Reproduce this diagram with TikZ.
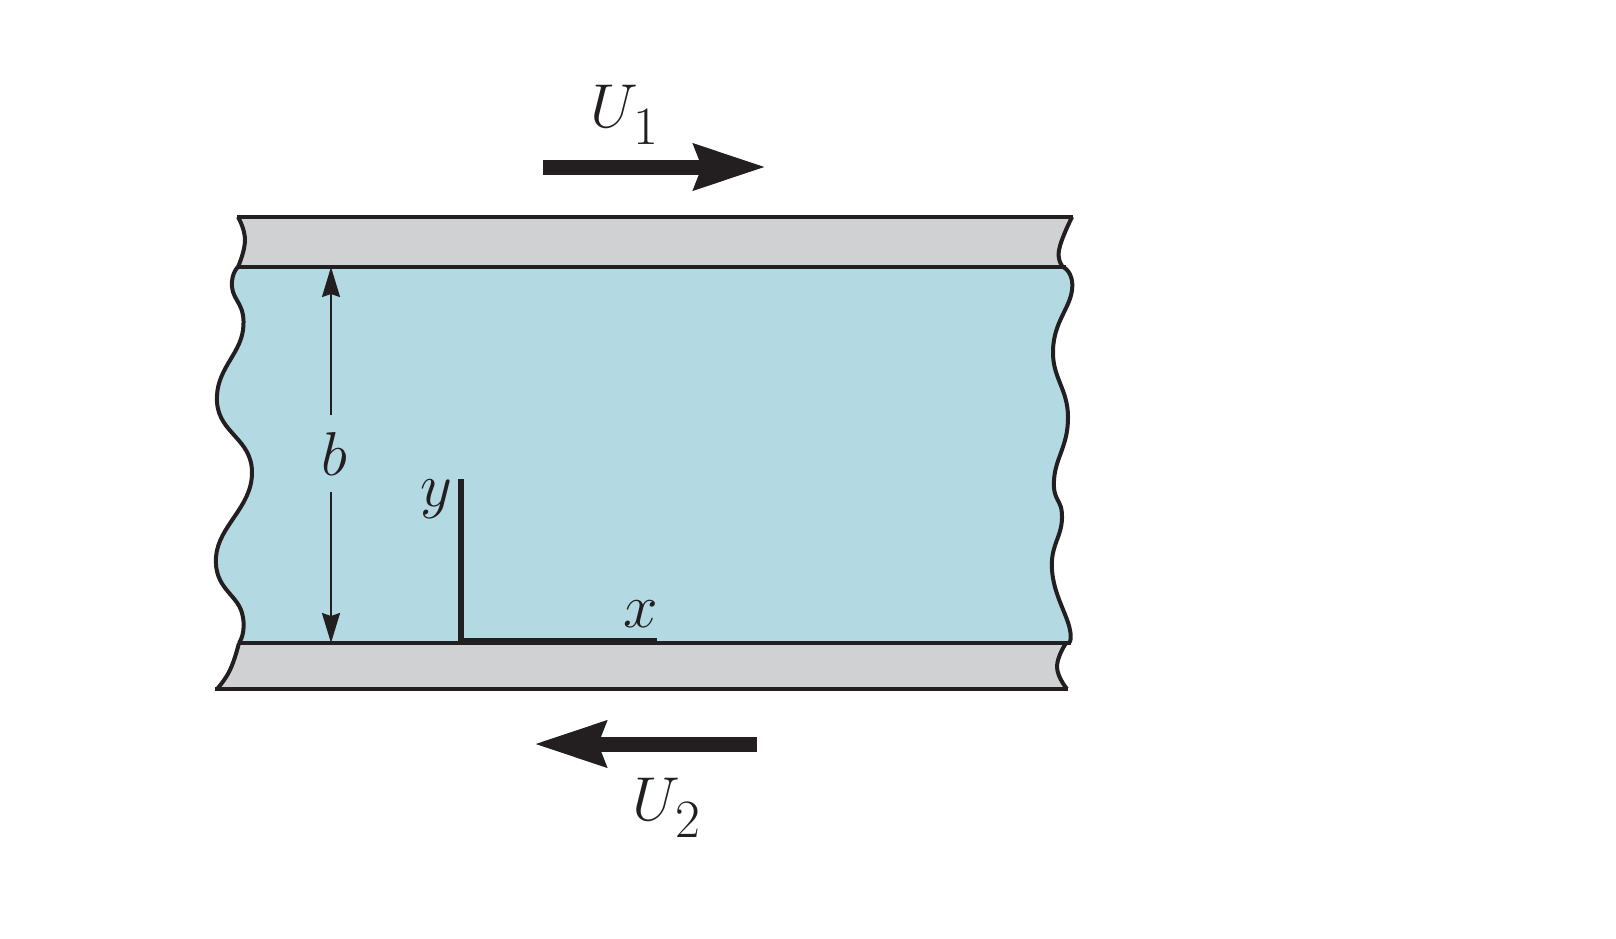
\RequirePackage{fix-cm}
\documentclass[tikz,border=0pt]{standalone}
\usetikzlibrary{arrows.meta}
\definecolor{fluidblue}{HTML}{B3D9E2}
\definecolor{wallgray}{HTML}{D0D1D3}
\definecolor{inkblack}{HTML}{231F20}
\newcommand{\subsize}[1]{\raisebox{-8pt}{\kern2pt\fontsize{54}{58}\selectfont #1}}
\def\lefttop{(238,217) (245,240) (238,267)}
\def\leftfluid{(238,267) (232,287) (243,330) (217,402) (252,473) (216,557) (242,613) (239,643)}
\def\leftbot{(239,643) (230,670) (217,689)}
\def\righttop{(1072,217) (1059,250) (1063,267)}
\def\rightfluid{(1063,267) (1072,290) (1053,350) (1068,417) (1054,480) (1062,518) (1052,570) (1070,630) (1066,643)}
\def\rightback{(1066,643) (1070,630) (1052,570) (1062,518) (1054,480) (1068,417) (1053,350) (1072,290) (1063,267)}
\def\rightbot{(1066,643) (1057,667) (1067,689)}
\tikzset{
	sym/.style={inner sep=0pt, text=inkblack, font=\fontsize{62}{68}\selectfont},
	edge/.style={line width=4pt, draw=inkblack, smooth, tension=.8},
	plate/.style={line width=3.4pt, draw=inkblack},
	bigarrow/.style={line width=15pt, draw=inkblack, -{Stealth[length=71pt,width=44pt,inset=7pt]}},
	dimarrow/.style={line width=2pt, draw=inkblack, -{Stealth[length=30pt,width=18pt,inset=3pt]}},
	axisline/.style={line width=6pt, draw=inkblack},
}
\begin{document}
\begin{tikzpicture}[x=1pt, y=-1pt, line join=round]
	\useasboundingbox (0,0) rectangle (1616,938);
	% walls
	\fill[wallgray] (238,217) -- (1072,217) -- (1059,250) -- (1063,267) -- (238,267) -- (245,240) -- cycle;
	\fill[wallgray] (239,643) -- (1066,643) -- (1057,667) -- (1067,689) -- (217,689) -- (230,670) -- cycle;
	% fluid
	\fill[fluidblue] plot[smooth, tension=.8] coordinates {\leftfluid} -- plot[smooth, tension=.8] coordinates {\rightback} -- cycle;
	% wavy edges
	\draw[edge] plot coordinates {\lefttop};
	\draw[edge] plot coordinates {\leftfluid};
	\draw[edge] plot coordinates {\leftbot};
	\draw[edge] plot coordinates {\righttop};
	\draw[edge] plot coordinates {\rightfluid};
	\draw[edge] plot coordinates {\rightbot};
	% plate lines
	\draw[plate] (237,217) -- (1073,217);
	\draw[plate] (237,267) -- (1066,267);
	\draw[plate] (238,643) -- (1071,643);
	\draw[plate] (215,689) -- (1068,689);
	% top and bottom arrows
	\coordinate (uonestart) at (543,167);
	\coordinate (uoneend) at (766,167);
	\coordinate (utwostart) at (757,744);
	\coordinate (utwoend) at (534,744);
	\draw[bigarrow] (uonestart) -- (uoneend);
	\draw[bigarrow] (utwostart) -- (utwoend);
	\node[sym, anchor=base west] (uone) at (590,127) {$U_{\subsize{1}}$};
	\node[sym, anchor=base west] (utwo) at (632,820) {$U_{\subsize{2}}$};
	% gap b
	\node[sym, anchor=base] (gap) at (334,475) {$b$};
	\coordinate (gapa) at (331,415);
	\coordinate (gapb) at (331,492);
	\coordinate (gaptop) at (331,267);
	\coordinate (gapbot) at (331,643);
	\draw[dimarrow] (gapa) -- (gaptop);
	\draw[dimarrow] (gapb) -- (gapbot);
	% axes
	\coordinate (origin) at (461,641);
	\coordinate (ytip) at (461,479);
	\coordinate (xtip) at (657,641);
	\draw[axisline] (ytip) -- (461,644);
	\draw[axisline] (origin) -- (xtip);
	\node[sym, anchor=base] (ylab) at (436,506) {$y$};
	\node[sym, anchor=base] (xlab) at (641,627) {$x$};
\end{tikzpicture}
\end{document}
